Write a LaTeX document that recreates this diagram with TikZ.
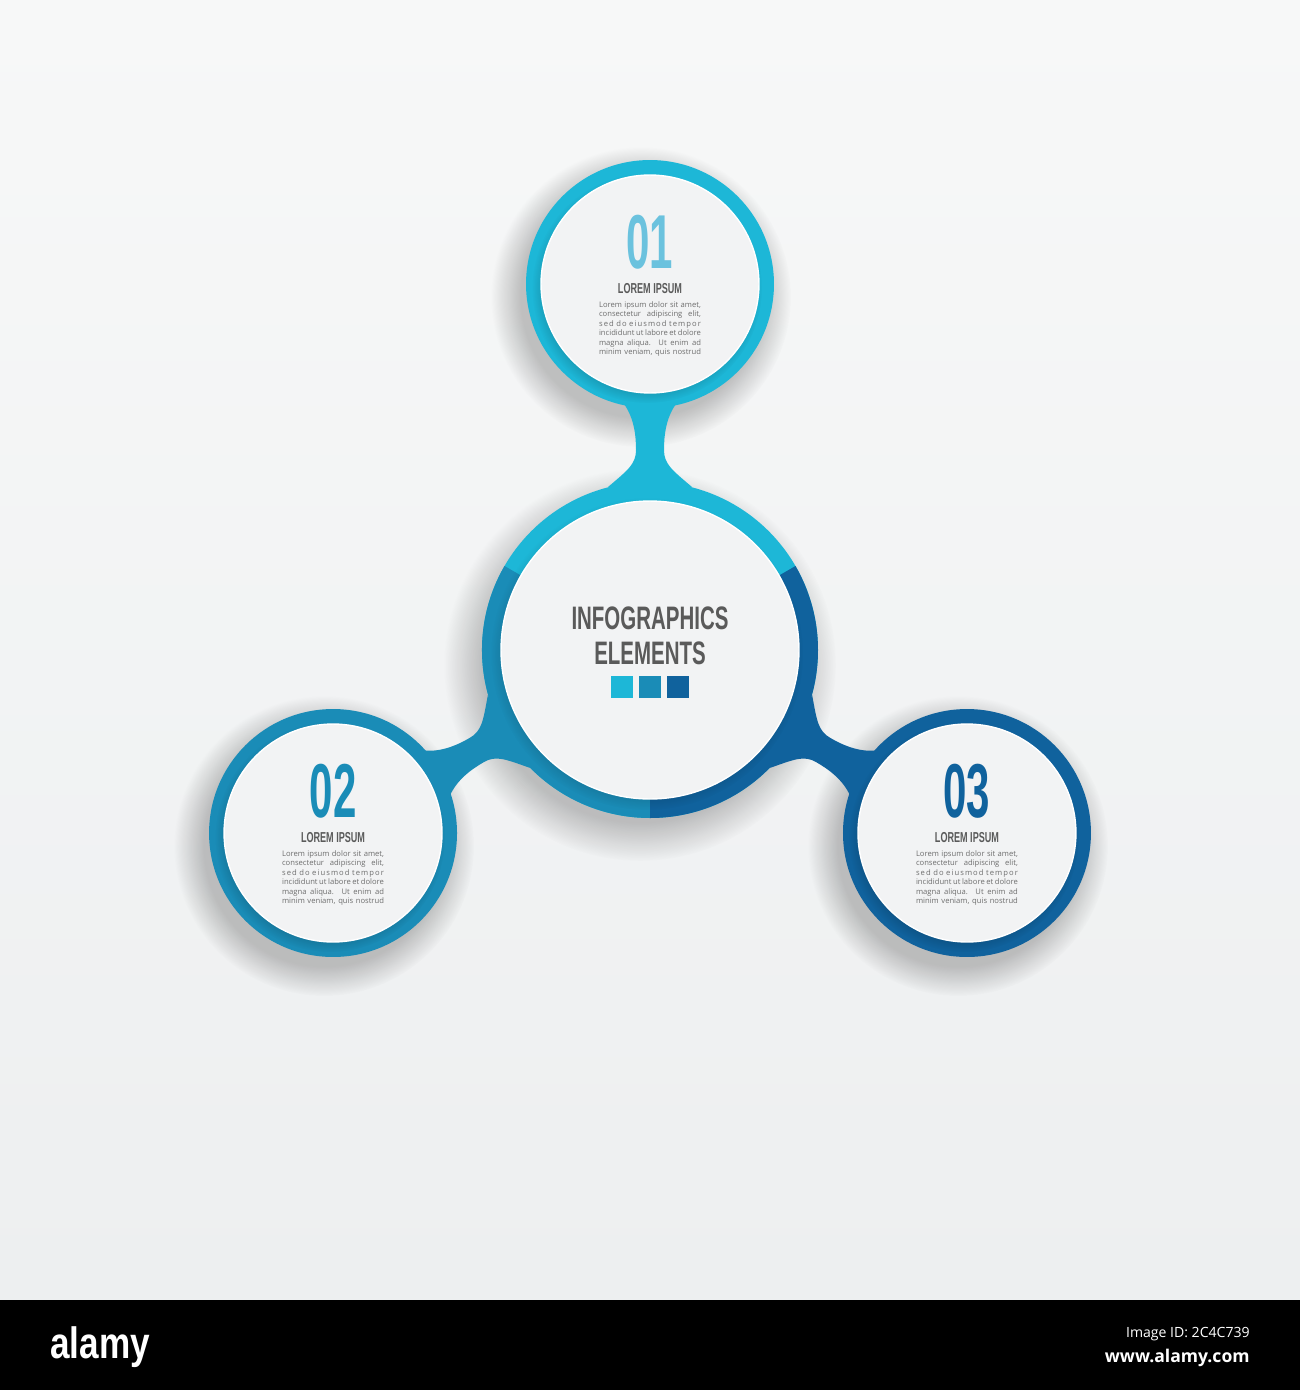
\documentclass[tikz,border=0pt]{standalone}
\usepackage{fontspec}
\setmainfont{Open Sans}
\newfontfamily\numfont[FakeStretch=0.55]{Liberation Sans}
\newfontfamily\headfont[FakeStretch=0.63]{Liberation Sans}
\newfontfamily\logofont[FakeStretch=0.8]{Liberation Sans}
\usetikzlibrary{calc,fadings}
\definecolor{cyanA}{HTML}{1DB7D7}
\definecolor{blueB}{HTML}{1A8CB7}
\definecolor{blueC}{HTML}{10629D}
\definecolor{numA}{HTML}{6BC2DE}
\definecolor{discgray}{HTML}{F2F3F4}
\definecolor{headgray}{HTML}{5A5A5A}
\definecolor{textgray}{HTML}{6E6E6E}
\definecolor{bgtop}{HTML}{F7F8F8}
\definecolor{bgbot}{HTML}{EDEFF0}
\newcommand{\loremtext}{%
\makebox[58pt][s]{Lorem ipsum dolor sit amet,}\\
\makebox[58pt][s]{consectetur adipiscing elit,}\\
\makebox[58pt][s]{\addfontfeature{LetterSpace=14}sed do eiusmod tempor}\\
\makebox[58pt][s]{incididunt ut labore et dolore}\\
\makebox[58pt][s]{magna aliqua. Ut enim ad}\\
\makebox[58pt][s]{minim veniam, quis nostrud}}
\begin{document}
\begin{tikzpicture}[x=0.02cm,y=0.02cm,
    softshadow/.style={black,opacity=0.22,path fading=circle with fuzzy edge 20 percent},
    discshadow/.style={black,opacity=0.14,path fading=circle with fuzzy edge 10 percent},
    hubring/.style={circle,minimum size=6.72cm,inner sep=0pt,outer sep=0pt,fill=cyanA},
    satring/.style={circle,minimum size=4.96cm,inner sep=0pt,outer sep=0pt},
    disc/.style={circle,inner sep=0pt,outer sep=0pt,fill=discgray,draw=white,line width=0.8pt},
    numlabel/.style={anchor=base,inner sep=0pt,font={\numfont\bfseries\fontsize{43.5pt}{44pt}\selectfont}},
    headlabel/.style={anchor=base,inner sep=0pt,text=headgray,font={\headfont\bfseries\fontsize{8.2pt}{9pt}\selectfont}},
    bodylabel/.style={inner sep=0pt,align=center,text=textgray,font={\fontsize{4.35pt}{5.45pt}\selectfont}},
    hubtitle/.style={anchor=base,inner sep=0pt,text=headgray,font={\headfont\bfseries\fontsize{18.5pt}{20pt}\selectfont}},
    keybox/.style={minimum size=0.44cm,inner sep=0pt,outer sep=0pt}]
\useasboundingbox (0,0) rectangle (1300,-1390);
\shade[top color=bgtop,bottom color=bgbot] (0,0) rectangle (1300,-1300);
\coordinate (hubc) at (650,-650);
\coordinate (s1c) at ($(hubc)+(90:366)$);
\coordinate (s2c) at ($(hubc)+(210:366)$);
\coordinate (s3c) at ($(hubc)+(330:366)$);
\fill[softshadow] ($(hubc)+(-10,-15)$) circle (196);
\foreach \s in {s1c,s2c,s3c}
  \fill[softshadow] ($(\s)+(-9,-13)$) circle (150);
\node[hubring] (hub) at (hubc) {};
\fill[blueB] (hub.center) -- ++(150:168) arc[start angle=150,end angle=270,radius=168] -- cycle;
\fill[blueC] (hub.center) -- ++(270:168) arc[start angle=270,end angle=390,radius=168] -- cycle;
\node[satring,fill=cyanA] (s1) at (s1c) {};
\node[satring,fill=blueB] (s2) at (s2c) {};
\node[satring,fill=blueC] (s3) at (s3c) {};
\foreach \a/\c in {90/cyanA,210/blueB,330/blueC}
  \fill[\c,shift={(hub.center)},rotate=\a] (163,42) .. controls (180,22) and (186,14) .. (200,14)
    .. controls (215,14) and (232,16) .. (246,26) -- (246,-26)
    .. controls (232,-16) and (215,-14) .. (200,-14) .. controls (186,-14) and (180,-22) .. (163,-42) -- cycle;
\fill[discshadow] ($(hub)+(-3,-4)$) circle (156);
\node[disc,minimum size=5.96cm] (hubdisc) at (hub) {};
\foreach \s in {s1,s2,s3}{
  \fill[discshadow] ($(\s)+(-3,-4)$) circle (115);
  \node[disc,minimum size=4.36cm] (\s-disc) at (\s) {};
}
\foreach \s/\n/\c in {s1/01/numA,s2/02/blueB,s3/03/blueC}{
  \node[numlabel,text=\c] (\s-num) at ($(\s)+(0,16)$) {\n};
  \node[headlabel] (\s-head) at ($(\s)+(0,-9)$) {LOREM IPSUM};
  \node[bodylabel] (\s-body) at ($(\s)+(0,-45)$) {\loremtext};
}
\node[hubtitle] (title1) at ($(hub)+(0,21)$) {INFOGRAPHICS};
\node[hubtitle] (title2) at ($(hub)+(0,-14)$) {ELEMENTS};
\foreach \c [count=\i] in {cyanA,blueB,blueC}
  \node[keybox,fill=\c] (key\i) at ($(hub)+({28*(\i-2)},-37)$) {};
\fill[black] (0,-1300) rectangle (1300,-1390);
\node[anchor=base west,inner sep=0pt,text=white,font={\logofont\bfseries\fontsize{25pt}{26pt}\selectfont}] (logo) at (50,-1358) {alamy};
\node[anchor=base east,inner sep=0pt,text=white,font={\fontsize{8pt}{9pt}\selectfont}] (imgid) at (1250,-1337) {Image ID: 2C4C739};
\node[anchor=base east,inner sep=0pt,text=white,font={\bfseries\fontsize{10pt}{11pt}\selectfont}] (site) at (1250,-1362) {www.alamy.com};
\end{tikzpicture}
\end{document}
